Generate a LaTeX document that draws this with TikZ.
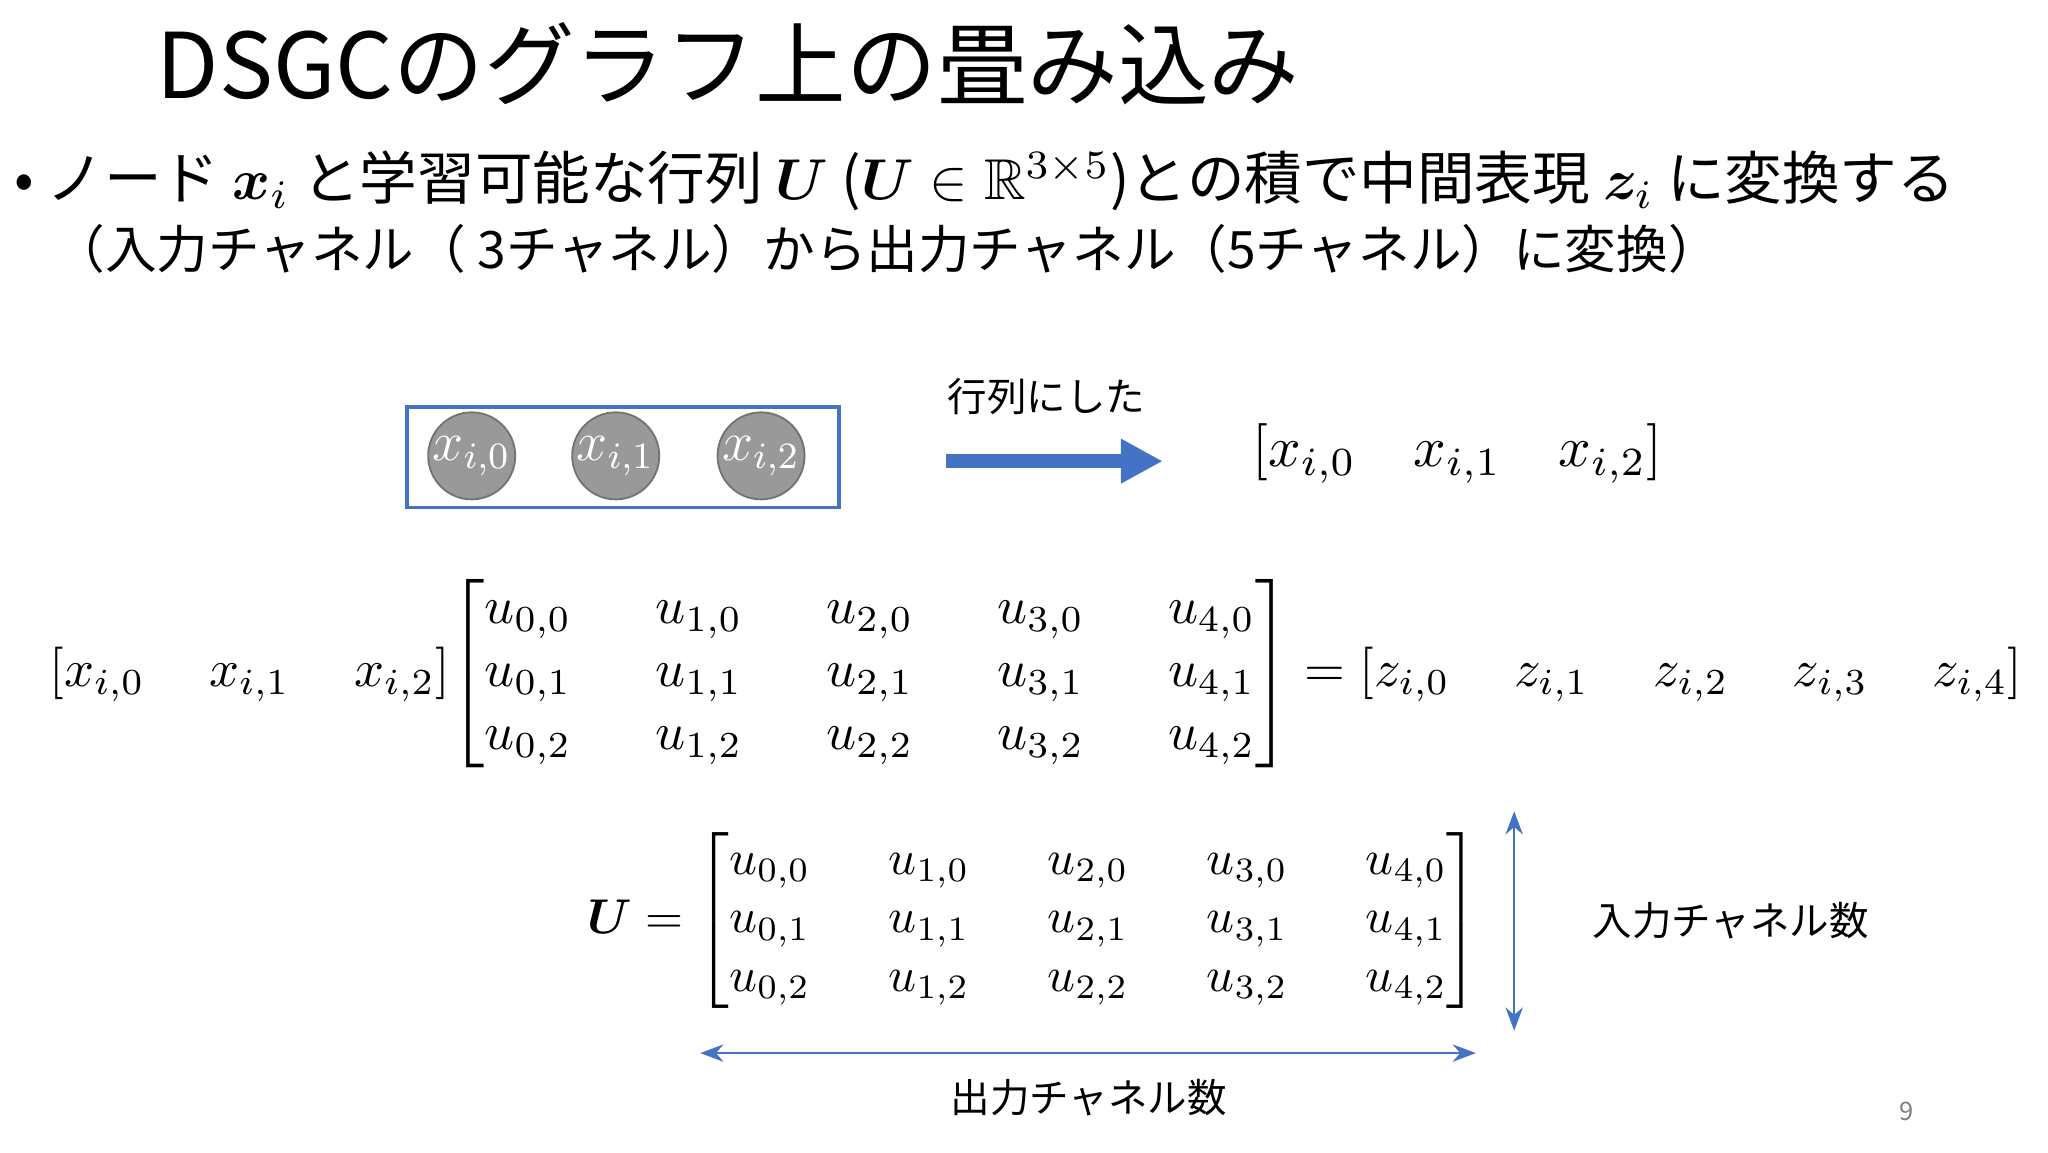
\documentclass[tikz,border=0pt]{standalone}
\usepackage{amsmath,amssymb,bm}
\usepackage{fontspec}
\setmainfont{Noto Sans CJK JP}
\usetikzlibrary{arrows.meta}
\definecolor{pblue}{HTML}{4472C4}
\begin{document}
\begin{tikzpicture}[x=0.01cm,y=-0.01cm,
  txt/.style={inner sep=0pt},
  circ/.style={circle,fill=black!40,draw=black!55,minimum size=0.63cm,inner sep=0pt,text=white}]
\useasboundingbox (0,0) rectangle (1550,872);
\node[txt,anchor=west] (title) at (118,48) {\fontsize{19.5}{23}\selectfont DSGCのグラフ上の畳み込み};
\node[txt,anchor=west] (l1) at (10,137) {\resizebox{14.68cm}{!}{• ノード $\bm{x}_i$ と学習可能な行列 $\bm{U}$ ($\bm{U}\in\mathbb{R}^{3\times5}$)との積で中間表現 $\bm{z}_i$ に変換する}};
\node[txt,anchor=west] (l2) at (40,188) {\resizebox{12.6cm}{!}{（入力チャネル（ 3チャネル）から出力チャネル（5チャネル）に変換）}};
\node[draw=pblue,thick,minimum width=3.27cm,minimum height=0.76cm] (box) at (471.5,346) {};
\foreach \i/\x in {0/357,1/466,2/576}
  \node[circ] (c\i) at (\x,345) {\fontsize{11.5}{12}\selectfont$x_{i,\i}$};
\node[txt] (lbl) at (792,300) {\fontsize{8.5}{10}\selectfont 行列にした};
\coordinate (a1) at (716,349); \coordinate (a2) at (880,349);
\draw[pblue,line width=3pt,-{Triangle[length=9pt,width=9pt]}] (a1) -- (a2);
\node[txt] (row) at (1103,343) {\resizebox{3.1cm}{!}{$[x_{i,0}\quad x_{i,1}\quad x_{i,2}]$}};
\node[txt] (eq) at (784,510) {\resizebox{14.92cm}{!}{$\setlength\arraycolsep{8pt}[x_{i,0}\quad\ x_{i,1}\quad\ x_{i,2}]\!\begin{bmatrix}u_{0,0}&u_{1,0}&u_{2,0}&u_{3,0}&u_{4,0}\\u_{0,1}&u_{1,1}&u_{2,1}&u_{3,1}&u_{4,1}\\u_{0,2}&u_{1,2}&u_{2,2}&u_{3,2}&u_{4,2}\end{bmatrix}=[z_{i,0}\quad\ z_{i,1}\quad\ z_{i,2}\quad\ z_{i,3}\quad\ z_{i,4}]$}};
\node[txt] (U) at (782,697) {\resizebox{6.75cm}{!}{$\setlength\arraycolsep{8pt}\bm{U}=\begin{bmatrix}u_{0,0}&u_{1,0}&u_{2,0}&u_{3,0}&u_{4,0}\\u_{0,1}&u_{1,1}&u_{2,1}&u_{3,1}&u_{4,1}\\u_{0,2}&u_{1,2}&u_{2,2}&u_{3,2}&u_{4,2}\end{bmatrix}$}};
\coordinate (v1) at (1146,614); \coordinate (v2) at (1146,780);
\draw[pblue,{Stealth[length=5pt]}-{Stealth[length=5pt]}] (v1) -- (v2);
\node[txt] (in) at (1310,697) {\fontsize{8.5}{10}\selectfont 入力チャネル数};
\coordinate (h1) at (530,797); \coordinate (h2) at (1117,797);
\draw[pblue,{Stealth[length=5pt]}-{Stealth[length=5pt]}] (h1) -- (h2);
\node[txt] (out) at (824,831) {\fontsize{8.5}{10}\selectfont 出力チャネル数};
\node[txt,text=black!50] (pg) at (1443,841) {\fontsize{5.5}{6}\selectfont 9};
\end{tikzpicture}
\end{document}
